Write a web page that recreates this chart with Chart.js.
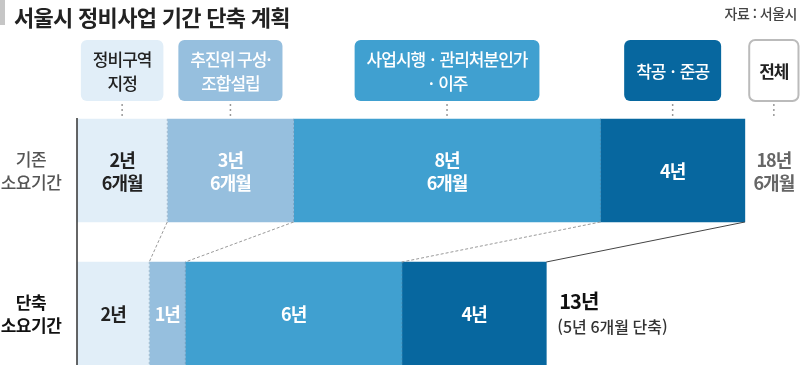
<!DOCTYPE html>
<html lang="ko">
<head>
<meta charset="utf-8">
<script src="https://cdn.jsdelivr.net/npm/chart.js@4"></script>
<style>
  html, body { margin: 0; padding: 0; background: #fff; }
  #wrap { position: relative; width: 800px; height: 365px; overflow: hidden; }
  #chart { position: absolute; left: 0; top: 0; }
  #title {
    position: absolute; left: 0; top: 0; height: 25px; line-height: 25px;
    border-left: 5px solid #c6c6c6; padding-left: 9px;
    font: bold 22px "Noto Sans CJK KR", sans-serif; letter-spacing: -0.7px; color: #222;
  }
  #source {
    position: absolute; right: 3px; top: 3px;
    font: 500 14px "Noto Sans CJK KR", sans-serif; letter-spacing: -0.5px; color: #444;
  }
</style>
</head>
<body>
<div id="wrap">
  <canvas id="chart" width="800" height="365"></canvas>
  <div id="title">서울시 정비사업 기간 단축 계획</div>
  <div id="source">자료 : 서울시</div>
</div>
<script>
// rows and stages
const categories = [['기존', '소요기간'], ['단축', '소요기간']];
const stages = ['정비구역 지정', '추진위 구성·조합설립', '사업시행·관리처분인가·이주', '착공·준공'];
const stageBoxText = [['정비구역', '지정'], ['추진위 구성·', '조합설립'], ['사업시행 · 관리처분인가', '· 이주'], ['착공 · 준공']];
// years per stage
const beforeYears = [2.5, 3.5, 8.5, 4];
const afterYears = [2, 1, 6, 4];
const beforeText = [['2년', '6개월'], ['3년', '6개월'], ['8년', '6개월'], ['4년']];
const afterText = [['2년'], ['1년'], ['6년'], ['4년']];
const totalBox = ['전체'];
const totalBefore = ['18년', '6개월'];
const totalAfter = ['13년', '(5년 6개월 단축)'];
const xMax = 20;

const stageColors = ['#e1eef8', '#96bfde', '#40a0d0', '#07679f'];
const stageTextColors = ['#222', '#fff', '#fff', '#fff'];
const KR = '"Noto Sans CJK KR", "Noto Sans", sans-serif';

function drawLines(ctx, arr, x, y, lh) {
  const y0 = y - (arr.length - 1) * lh / 2;
  arr.forEach((t, i) => ctx.fillText(t, x, y0 + i * lh));
}

function dashLine(ctx, x1, y1, x2, y2, dash, color, w) {
  ctx.save();
  ctx.setLineDash(dash);
  ctx.strokeStyle = color;
  ctx.lineWidth = w;
  ctx.beginPath();
  ctx.moveTo(x1, y1);
  ctx.lineTo(x2, y2);
  ctx.stroke();
  ctx.restore();
}

const overlay = {
  id: 'overlay',
  afterDatasetsDraw(chart) {
    const ctx = chart.ctx;
    const top = stages.map((_, i) => chart.getDatasetMeta(i).data[0].getProps(['x', 'y', 'base', 'height'], true));
    const bot = stages.map((_, i) => chart.getDatasetMeta(i).data[1].getProps(['x', 'y', 'base', 'height'], true));
    const tTop = top[0].y - top[0].height / 2, tBot = top[0].y + top[0].height / 2;
    const bTop = bot[0].y - bot[0].height / 2, bBot = bot[0].y + bot[0].height / 2;
    ctx.save();

    // boundaries inside bars
    for (let i = 0; i < stages.length - 1; i++) {
      dashLine(ctx, top[i].x, tTop, top[i].x, tBot, [2, 2], 'rgba(90,120,150,0.35)', 1);
      dashLine(ctx, bot[i].x, bTop, bot[i].x, bBot, [2, 2], 'rgba(90,120,150,0.35)', 1);
    }
    // connectors between rows
    stages.forEach((_, i) => {
      const last = i === stages.length - 1;
      dashLine(ctx, top[i].x, tBot, bot[i].x, bTop, last ? [] : [3, 2], last ? '#444' : '#999', 1);
    });

    // axis line
    const x0 = chart.scales.x.getPixelForValue(0);
    dashLine(ctx, x0, tTop - 1, x0, 365, [], '#333', 1.5);

    ctx.textAlign = 'center';
    ctx.textBaseline = 'middle';
    ctx.letterSpacing = '-1px';

    // labels in bars
    ctx.font = `bold 18px ${KR}`;
    stages.forEach((_, i) => {
      ctx.fillStyle = stageTextColors[i];
      drawLines(ctx, beforeText[i], (top[i].base + top[i].x) / 2, top[i].y + 1, 23);
      drawLines(ctx, afterText[i], (bot[i].base + bot[i].x) / 2, bot[i].y + 1, 23);
    });

    // row labels
    ctx.letterSpacing = '-0.5px';
    ctx.font = `500 17px ${KR}`;
    ctx.fillStyle = '#555';
    drawLines(ctx, categories[0], 31, top[0].y + 1, 23);
    ctx.font = `bold 17px ${KR}`;
    ctx.fillStyle = '#111';
    drawLines(ctx, categories[1], 31, bot[0].y + 1, 23);

    // totals
    ctx.letterSpacing = '-1px';
    const totX = top[3].x + 29;
    ctx.font = `bold 18px ${KR}`;
    ctx.fillStyle = '#666';
    drawLines(ctx, totalBefore, totX, top[3].y + 1, 23);
    ctx.textAlign = 'left';
    ctx.fillStyle = '#111';
    ctx.font = `bold 20px ${KR}`;
    ctx.fillText(totalAfter[0], bot[3].x + 13, bot[3].y - 12);
    ctx.letterSpacing = '0px';
    ctx.font = `500 16px ${KR}`;
    ctx.fillStyle = '#333';
    ctx.fillText(totalAfter[1], bot[3].x + 11, bot[3].y + 13);

    // stage boxes above the top bar
    ctx.letterSpacing = '-1px';
    const boxTop = 40, boxH = 61;
    const boxes = stageBoxText.map((txt, i) => ({ txt, cx: (top[i].base + top[i].x) / 2, fill: stageColors[i], color: stageTextColors[i] }));
    boxes.push({ txt: totalBox, cx: totX, fill: '#fff', color: '#222', border: true });
    ctx.textAlign = 'center';
    boxes.forEach(b => {
      ctx.font = b.border ? `bold 17px ${KR}` : `500 17px ${KR}`;
      const w = Math.max(...b.txt.map(t => ctx.measureText(t).width)) + (b.border ? 20 : 24);
      ctx.beginPath();
      ctx.roundRect(b.cx - w / 2, boxTop, w, boxH, 6);
      ctx.fillStyle = b.fill;
      ctx.fill();
      if (b.border) {
        ctx.strokeStyle = '#bbb';
        ctx.lineWidth = 2;
        ctx.stroke();
      }
      ctx.fillStyle = b.color;
      drawLines(ctx, b.txt, b.cx, boxTop + boxH / 2 + 1, 24);
      dashLine(ctx, b.cx, boxTop + boxH + 3, b.cx, tTop - 2, [2, 3], '#999', 1.5);
    });

    ctx.restore();
  }
};

new Chart(document.getElementById('chart'), {
  type: 'bar',
  data: {
    labels: categories,
    datasets: stages.map((s, i) => ({
      label: s,
      data: [beforeYears[i], afterYears[i]],
      backgroundColor: stageColors[i],
      borderWidth: 0,
      barThickness: 103,
      clip: false
    }))
  },
  options: {
    indexAxis: 'y',
    responsive: false,
    animation: false,
    events: [],
    layout: { padding: { left: 77, right: 1, top: 170.5, bottom: 51.5 } },
    scales: {
      x: { stacked: true, min: 0, max: xMax, display: false },
      y: { stacked: true, offset: false, display: false }
    },
    plugins: { legend: { display: false }, tooltip: { enabled: false } }
  },
  plugins: [overlay]
});
</script>
</body>
</html>
